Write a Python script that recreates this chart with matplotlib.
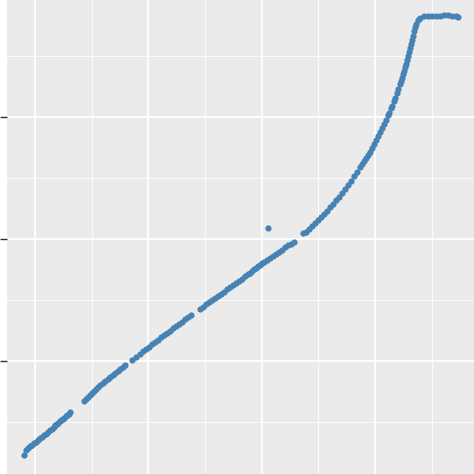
import numpy as np
import matplotlib.pyplot as plt

points = [
    (24, 455), (26, 450), (28, 448), (30, 446), (32, 445), (34, 443), (36, 442), (38, 440),
    (40, 438), (42, 437), (44, 435), (46, 434), (48, 432), (50, 430), (52, 429), (54, 427),
    (55, 425), (57, 424), (58, 423), (60, 421), (61, 420), (63, 419), (64, 418), (66, 416),
    (67, 415), (69, 414), (70, 412),
    (84, 401), (86, 399), (88, 397), (90, 395), (92, 393), (94, 391), (96, 389), (98, 387),
    (100, 385), (103, 383), (105, 381), (108, 379), (110, 377), (113, 375), (115, 373),
    (118, 371), (120, 369), (123, 367), (125, 365),
    (132, 360), (136, 357), (140, 354), (143, 351), (146, 349), (149, 347), (152, 344),
    (155, 342), (158, 340), (161, 337), (164, 335), (167, 333), (170, 331), (173, 328),
    (176, 326), (179, 324), (182, 322), (185, 319), (188, 317), (191, 315),
    (200, 309), (203, 307), (206, 304), (209, 302), (212, 300), (215, 298), (218, 296),
    (221, 294), (224, 292), (227, 289), (230, 287), (233, 285), (236, 283), (239, 281),
    (242, 279), (245, 276), (248, 274), (250, 273), (252, 271), (254, 269), (256, 268),
    (258, 266), (260, 265), (262, 263), (264, 262), (267, 260), (270, 258), (273, 256),
    (276, 254), (279, 252), (282, 250), (285, 247), (288, 245), (291, 244), (294, 242),
    (303, 233), (306, 232), (309, 229), (312, 226), (315, 223), (318, 220), (321, 217),
    (324, 214), (327, 211), (330, 207), (333, 204), (336, 200), (339, 197), (342, 193),
    (345, 189), (348, 185), (351, 181), (354, 176), (357, 172), (360, 167), (362, 164),
    (364, 161), (366, 158), (368, 155), (370, 152), (372, 148), (374, 144), (376, 140),
    (378, 136), (380, 132), (382, 128), (384, 124), (386, 120), (388, 115), (389, 113),
    (391, 108), (392, 106), (394, 101), (395, 98), (397, 93), (398, 89), (400, 84),
    (401, 81), (402, 78), (403, 74), (404, 71), (405, 67), (406, 64), (407, 60), (408, 56),
    (409, 52), (410, 48), (411, 44), (412, 40), (413, 36), (414, 31), (415, 27), (416, 24),
    (418, 20), (420, 18), (424, 16), (428, 16), (432, 16), (436, 16), (440, 16), (444, 15),
    (448, 15), (452, 16), (456, 16), (458, 17),
    (268, 228),
]
px = np.array([p[0] for p in points])
py = np.array([p[1] for p in points])
x = px
y = 474 - py

fig = plt.figure(figsize=(4.74, 4.74), dpi=100)
ax = fig.add_axes([7 / 474, 0, 1 - 7 / 474, 1])
ax.set_facecolor("#EBEBEB")
ax.set_xlim(7, 474)
ax.set_ylim(0, 474)

xmaj = [35, 148, 262, 375]
xmin = [92, 205, 318, 432]
ymaj = [474 - v for v in (117, 239, 361)]
ymin = [474 - v for v in (56, 178, 300, 422)]
for v in xmaj:
    ax.axvline(v, color="white", lw=1.3, zorder=0)
for v in xmin:
    ax.axvline(v, color="white", lw=0.6, zorder=0)
for v in ymaj:
    ax.axhline(v, color="white", lw=1.3, zorder=0)
for v in ymin:
    ax.axhline(v, color="white", lw=0.6, zorder=0)

ax.scatter(x, y, s=20, color="#4682B4", zorder=3, linewidths=0)

for s in ax.spines.values():
    s.set_visible(False)
ax.set_xticks([])
ax.set_yticks(ymaj)
ax.set_yticklabels([])
ax.tick_params(axis="y", length=5, color="#333333", width=1)

fig.savefig("out.png", dpi=100)
